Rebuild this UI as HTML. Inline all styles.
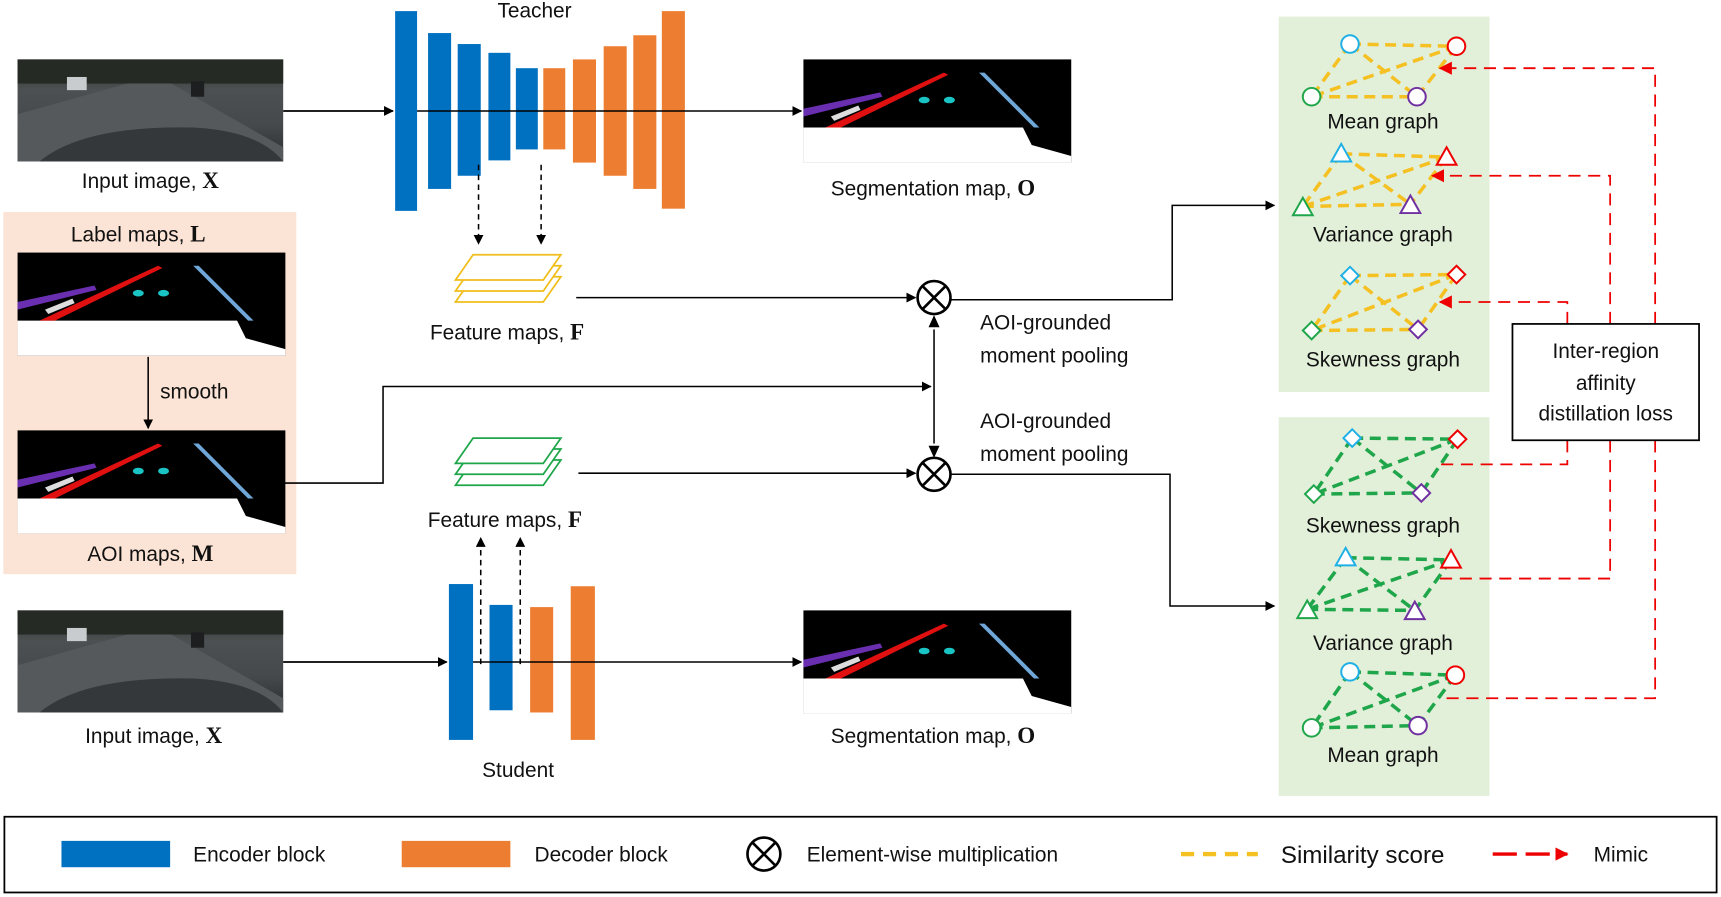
<!DOCTYPE html>
<html><head><meta charset="utf-8"><style>html,body{margin:0;padding:0;background:#fff}svg{display:block}text{font-family:"Liberation Sans",sans-serif;font-size:19px;fill:#111}.m{font-family:"Liberation Serif",serif;font-weight:bold;font-size:21px}</style></head>
<body>
<svg width="1721" height="897" viewBox="0 0 1568 817" xmlns="http://www.w3.org/2000/svg">
<defs>
<marker id="ab" viewBox="0 0 10 10" refX="9" refY="5" markerWidth="9" markerHeight="9" markerUnits="userSpaceOnUse" orient="auto"><path d="M0,0L10,5L0,10z" fill="#000"/></marker>
<marker id="ar" viewBox="0 0 10 10" refX="9" refY="5" markerWidth="12" markerHeight="12" markerUnits="userSpaceOnUse" orient="auto"><path d="M0,0L10,5L0,10z" fill="#e00"/></marker>
<linearGradient id="road" x1="0" y1="0" x2="0" y2="1"><stop offset="0" stop-color="#2e3230"/><stop offset="0.3" stop-color="#4c5052"/><stop offset="0.65" stop-color="#45494b"/><stop offset="1" stop-color="#2a2d2f"/></linearGradient>
<g id="photo"><rect width="242" height="93" fill="url(#road)"/><rect width="242" height="22" fill="#262a24"/><path d="M0,50L100,22L140,22L242,80L242,93L0,93z" fill="#55595b"/><path d="M20,93Q60,60 160,62Q220,65 242,93z" fill="#34383b"/><rect x="45" y="16" width="18" height="12" fill="#c9ccce"/><rect x="158" y="20" width="12" height="14" fill="#1c1e20"/></g>
<g id="seg"><rect width="244" height="94" fill="#000"/><path d="M0,62L200,62L208,78L244,88L244,94L0,94z" fill="#fff"/><path d="M20,62L128,12L132,14L34,62z" fill="#e01010"/><path d="M0,45L70,30L72,34L0,52z" fill="#6a2fb0"/><path d="M165,12L215,62L210,62L160,12z" fill="#6fa8d8"/><ellipse cx="110" cy="37" rx="5" ry="3" fill="#1bc4c4"/><ellipse cx="133" cy="37" rx="5" ry="3" fill="#1bc4c4"/><path d="M25,52L50,42L52,46L28,56z" fill="#ddd"/></g>
</defs>

<!-- teacher -->
<text x="487" y="16" text-anchor="middle">Teacher</text>
<use href="#photo" x="16" y="54"/>
<text x="137" y="171" text-anchor="middle">Input image, <tspan class="m">X</tspan></text>
<line x1="258" y1="101" x2="358" y2="101" stroke="#000" stroke-width="1.6" marker-end="url(#ab)"/>
<g fill="#0070c0"><rect x="360" y="10" width="20" height="182"/><rect x="390" y="30" width="21" height="142"/><rect x="417" y="40" width="21" height="120"/><rect x="445" y="48" width="20" height="98"/><rect x="470" y="62" width="20" height="74"/></g>
<g fill="#ed7d31"><rect x="495" y="62" width="20" height="74"/><rect x="522" y="54" width="21" height="94"/><rect x="550" y="42" width="21" height="118"/><rect x="577" y="32" width="21" height="140"/><rect x="603" y="10" width="21" height="180"/></g>
<line x1="380" y1="101" x2="730" y2="101" stroke="#000" stroke-width="1.3" marker-end="url(#ab)"/>
<use href="#seg" x="732" y="54"/>
<text x="850" y="178" text-anchor="middle">Segmentation map, <tspan class="m">O</tspan></text>
<g stroke="#000" stroke-width="1.4" stroke-dasharray="5 4"><line x1="436" y1="150" x2="436" y2="222" marker-end="url(#ab)"/><line x1="493" y1="150" x2="493" y2="222" marker-end="url(#ab)"/></g>
<g fill="#fff" stroke="#f0be1a" stroke-width="1.6"><path d="M431,252L511,252L495,275L415,275z"/><path d="M431,242L511,242L495,265L415,265z"/><path d="M431,232L511,232L495,255L415,255z"/></g>
<text x="462" y="309" text-anchor="middle">Feature maps, <tspan class="m">F</tspan></text>
<line x1="525" y1="271" x2="834" y2="271" stroke="#000" stroke-width="1.4" marker-end="url(#ab)"/>

<!-- peach -->
<rect x="3" y="193" width="267" height="330" fill="#fbe4d6"/>
<text x="126" y="220" text-anchor="middle">Label maps, <tspan class="m">L</tspan></text>
<use href="#seg" x="16" y="230"/>
<line x1="135" y1="325" x2="135" y2="390" stroke="#000" stroke-width="1.4" marker-end="url(#ab)"/>
<text x="177" y="363" text-anchor="middle">smooth</text>
<use href="#seg" x="16" y="392"/>
<text x="137" y="511" text-anchor="middle">AOI maps, <tspan class="m">M</tspan></text>
<polyline points="258,440 349,440 349,352 848,352" fill="none" stroke="#000" stroke-width="1.4" marker-end="url(#ab)"/>

<!-- multipliers -->
<g fill="#fff" stroke="#000" stroke-width="2.4"><circle cx="851" cy="271" r="15"/><circle cx="851" cy="432" r="15"/><path d="M840,260L862,282M862,260L840,282M840,421L862,443M862,421L840,443"/></g>
<line x1="851" y1="300" x2="851" y2="404" stroke="#000" stroke-width="1.4"/>
<path d="M846,298L851,287L856,298z M846,406L851,417L856,406z" fill="#000"/>
<text x="893" y="300">AOI-grounded</text><text x="893" y="330">moment pooling</text>
<text x="893" y="390">AOI-grounded</text><text x="893" y="420">moment pooling</text>
<polyline points="866,273 1068,273 1068,187 1161,187" fill="none" stroke="#000" stroke-width="1.4" marker-end="url(#ab)"/>
<polyline points="866,432 1066,432 1066,552 1161,552" fill="none" stroke="#000" stroke-width="1.4" marker-end="url(#ab)"/>

<!-- student -->
<g fill="#fff" stroke="#1fa64a" stroke-width="1.6"><path d="M431,419L511,419L495,442L415,442z"/><path d="M431,409L511,409L495,432L415,432z"/><path d="M431,399L511,399L495,422L415,422z"/></g>
<text x="460" y="480" text-anchor="middle">Feature maps, <tspan class="m">F</tspan></text>
<line x1="527" y1="431" x2="834" y2="431" stroke="#000" stroke-width="1.4" marker-end="url(#ab)"/>
<use href="#photo" x="16" y="556"/>
<text x="140" y="677" text-anchor="middle">Input image, <tspan class="m">X</tspan></text>
<line x1="258" y1="603" x2="407" y2="603" stroke="#000" stroke-width="1.6" marker-end="url(#ab)"/>
<g fill="#0070c0"><rect x="409" y="532" width="22" height="142"/><rect x="446" y="551" width="21" height="96"/></g>
<g fill="#ed7d31"><rect x="483" y="553" width="21" height="96"/><rect x="520" y="534" width="22" height="140"/></g>
<line x1="431" y1="603" x2="730" y2="603" stroke="#000" stroke-width="1.3" marker-end="url(#ab)"/>
<g stroke="#000" stroke-width="1.4" stroke-dasharray="5 4"><line x1="438" y1="605" x2="438" y2="490" marker-end="url(#ab)"/><line x1="474" y1="605" x2="474" y2="490" marker-end="url(#ab)"/></g>
<use href="#seg" x="732" y="556"/>
<text x="850" y="677" text-anchor="middle">Segmentation map, <tspan class="m">O</tspan></text>
<text x="472" y="708" text-anchor="middle">Student</text>

<!-- green panels -->
<rect x="1165" y="15" width="192" height="342" fill="#e2efd9"/>
<rect x="1165" y="380" width="192" height="345" fill="#e2efd9"/>

<g fill="none" stroke="#f5c022" stroke-width="3.2" stroke-dasharray="10 6">
<path d="M1230,40L1327,42M1230,40L1195,88M1230,40L1291,88M1327,42L1195,88M1327,42L1291,88M1195,88L1291,88"/>
<path d="M1222,140L1318,143M1222,140L1187,188M1222,140L1285,186M1318,143L1187,188M1318,143L1285,186M1187,188L1285,186"/>
<path d="M1230,251L1327,250M1230,251L1195,301M1230,251L1292,300M1327,250L1195,301M1327,250L1292,300M1195,301L1292,300"/>
</g>
<g fill="none" stroke="#1fa64a" stroke-width="3.2" stroke-dasharray="10 6">
<path d="M1232,399L1328,400M1232,399L1197,450M1232,399L1295,449M1328,400L1197,450M1328,400L1295,449M1197,450L1295,449"/>
<path d="M1226,508L1322,510M1226,508L1191,555M1226,508L1289,556M1322,510L1191,555M1322,510L1289,556M1191,555L1289,556"/>
<path d="M1230,612L1326,615M1230,612L1195,663M1230,612L1292,661M1326,615L1195,663M1326,615L1292,661M1195,663L1292,661"/>
</g>
<g fill="#fff" stroke-width="1.8">
<circle cx="1230" cy="40" r="8" stroke="#1fb0e6"/><circle cx="1327" cy="42" r="8" stroke="#e00"/><circle cx="1195" cy="88" r="8" stroke="#1fa64a"/><circle cx="1291" cy="88" r="8" stroke="#7030a0"/>
<path d="M1222,131L1231,147L1213,147z" stroke="#1fb0e6"/><path d="M1318,134L1327,150L1309,150z" stroke="#e00"/><path d="M1187,180L1196,196L1178,196z" stroke="#1fa64a"/><path d="M1285,178L1294,194L1276,194z" stroke="#7030a0"/>
<path d="M1230,243L1238,251L1230,259L1222,251z" stroke="#1fb0e6"/><path d="M1327,242L1335,250L1327,258L1319,250z" stroke="#e00"/><path d="M1195,293L1203,301L1195,309L1187,301z" stroke="#1fa64a"/><path d="M1292,292L1300,300L1292,308L1284,300z" stroke="#7030a0"/>
<path d="M1232,391L1240,399L1232,407L1224,399z" stroke="#1fb0e6"/><path d="M1328,392L1336,400L1328,408L1320,400z" stroke="#e00"/><path d="M1197,442L1205,450L1197,458L1189,450z" stroke="#1fa64a"/><path d="M1295,441L1303,449L1295,457L1287,449z" stroke="#7030a0"/>
<path d="M1226,499L1235,515L1217,515z" stroke="#1fb0e6"/><path d="M1322,501L1331,517L1313,517z" stroke="#e00"/><path d="M1191,547L1200,563L1182,563z" stroke="#1fa64a"/><path d="M1289,548L1298,564L1280,564z" stroke="#7030a0"/>
<circle cx="1230" cy="612" r="8" stroke="#1fb0e6"/><circle cx="1326" cy="615" r="8" stroke="#e00"/><circle cx="1195" cy="663" r="8" stroke="#1fa64a"/><circle cx="1292" cy="661" r="8" stroke="#7030a0"/>
</g>
<g text-anchor="middle" style="font-size:20px">
<text x="1260" y="117">Mean graph</text><text x="1260" y="220">Variance graph</text><text x="1260" y="334">Skewness graph</text>
<text x="1260" y="485">Skewness graph</text><text x="1260" y="592">Variance graph</text><text x="1260" y="694">Mean graph</text></g>

<g fill="none" stroke="#e00" stroke-width="1.6" stroke-dasharray="11 7">
<polyline points="1508,295 1508,62 1312,62" marker-end="url(#ar)"/>
<polyline points="1467,295 1467,160 1305,160" marker-end="url(#ar)"/>
<polyline points="1428,295 1428,275 1312,275" marker-end="url(#ar)"/>
<polyline points="1428,401 1428,423 1310,423"/>
<polyline points="1467,401 1467,527 1310,527"/>
<polyline points="1508,401 1508,636 1313,636"/>
</g>
<rect x="1378" y="295" width="170" height="106" fill="#fff" stroke="#000" stroke-width="1.6"/>
<g text-anchor="middle" style="font-size:20px"><text x="1463" y="326">Inter-region</text><text x="1463" y="355">affinity</text><text x="1463" y="383">distillation loss</text></g>

<rect x="4" y="744" width="1560" height="69" fill="#fff" stroke="#000" stroke-width="1.6"/>
<rect x="56" y="766" width="99" height="24" fill="#0070c0"/><text x="176" y="785">Encoder block</text>
<rect x="366" y="766" width="99" height="24" fill="#ed7d31"/><text x="487" y="785">Decoder block</text>
<g fill="#fff" stroke="#000" stroke-width="2.4"><circle cx="696" cy="778" r="15"/><path d="M685,767L707,789M707,767L685,789"/></g>
<text x="735" y="785">Element-wise multiplication</text>
<line x1="1076" y1="778" x2="1146" y2="778" stroke="#f5c022" stroke-width="4" stroke-dasharray="12 8"/>
<text x="1167" y="786" style="font-size:22px">Similarity score</text>
<line x1="1360" y1="778" x2="1428" y2="778" stroke="#e00" stroke-width="3" stroke-dasharray="22 8" marker-end="url(#ar)"/>
<text x="1452" y="785">Mimic</text>
</svg>
</body></html>
